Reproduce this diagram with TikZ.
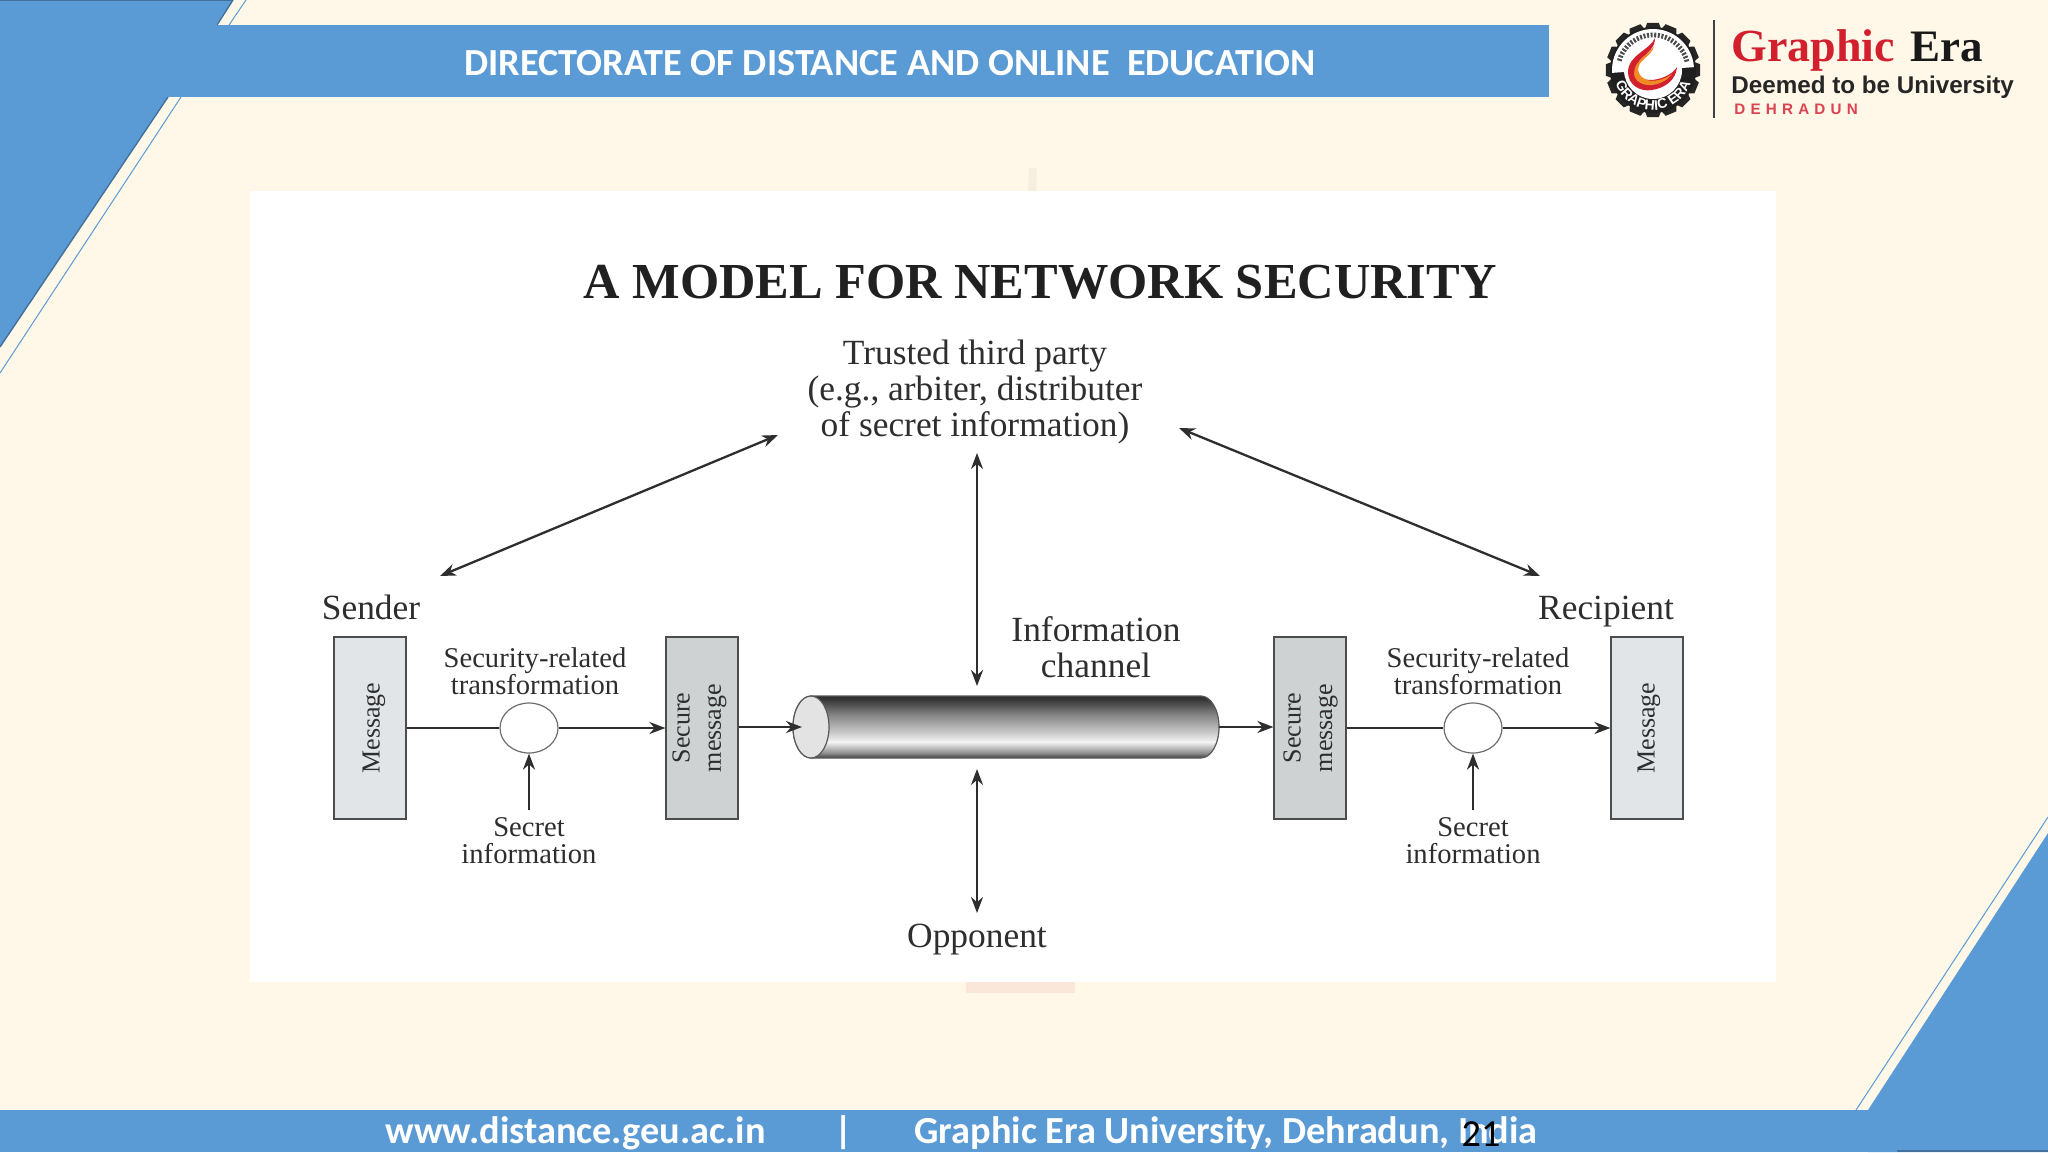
\documentclass[tikz,border=0pt]{standalone}
\usepackage{fontspec}
\setmainfont{Liberation Serif}
\newfontfamily\hdfont{Carlito}
\newfontfamily\logosans{Liberation Sans}
\usetikzlibrary{arrows.meta,shapes.geometric,decorations.text,calc}
\definecolor{bgcream}{HTML}{FFF8E8}
\definecolor{slideblue}{HTML}{5B9BD5}
\definecolor{edgeblue}{HTML}{41719C}
\definecolor{ink}{HTML}{2E2E2E}
\definecolor{boxlight}{HTML}{E2E5E7}
\definecolor{boxdark}{HTML}{CFD2D3}
\definecolor{logored}{HTML}{D2202F}
\definecolor{logoorange}{HTML}{F08A24}
\definecolor{faintmark}{HTML}{F6EEE0}
\definecolor{faintpink}{HTML}{FBE6DA}
\pgfdeclareverticalshading{pipeshade}{100bp}{%
 color(0bp)=(black!75); color(25bp)=(black!75); color(29bp)=(black!45);
 color(38bp)=(black!4); color(46bp)=(black!22); color(60bp)=(black!48);
 color(72bp)=(black!78); color(75bp)=(black!82); color(100bp)=(black!82)}
\tikzset{
 x=0.5pt,y=-0.5pt,
 label text/.style={text=ink,inner sep=0pt,align=center,font=\fontsize{17.7}{18.2}\selectfont},
 small text/.style={text=ink,inner sep=0pt,align=center,font=\fontsize{14.3}{13.6}\selectfont},
 msgbox/.style={draw=ink!85,line width=0.6pt,inner sep=0pt,minimum width=36pt,minimum height=91pt,text=ink,font=\fontsize{13}{15.7}\selectfont},
 xform/.style={ellipse,draw=ink!70,line width=0.6pt,fill=white,inner sep=0pt,minimum width=29pt,minimum height=25pt},
 flow/.style={draw=ink,line width=1.15pt,-{Stealth[length=8pt,width=6pt]}},
 link/.style={draw=ink,line width=1.15pt,{Stealth[length=8pt,width=6pt]}-{Stealth[length=8pt,width=6pt]}},
 plainline/.style={draw=ink,line width=1.15pt},
 banner/.style={text=white,inner sep=0pt,font=\hdfont\bfseries\fontsize{19.15}{21}\selectfont},
}
\begin{document}
\begin{tikzpicture}
\useasboundingbox (0,0) rectangle (2048,1152);
% slide background
\fill[bgcream] (0,0) rectangle (2048,1152);
\fill[slideblue] (100,25) rectangle (1549,97);
\fill[slideblue] (0,1110) rectangle (2048,1152);
\fill[slideblue] (0,0) -- (233,0) -- (0,347) -- cycle;
\draw[edgeblue,line width=0.6pt] (0,0) -- (233,0);
\draw[edgeblue,line width=0.7pt] (217,25) -- (233,0);
\draw[edgeblue,line width=0.7pt] (168,97) -- (0,347);
\draw[slideblue,line width=0.5pt] (246,0) -- (229,25);
\draw[slideblue,line width=0.5pt] (181,97) -- (0,373);
\fill[slideblue] (2048,833) -- (1868,1110) -- (1868,1152) -- (2048,1152) -- cycle;
\draw[slideblue,line width=0.5pt] (2048,817) -- (1856,1110);
\draw[edgeblue,line width=0.6pt] (1897,1151) -- (2048,1151);
\node[banner] (head) at (890,63) {DIRECTORATE OF DISTANCE AND ONLINE\ \ EDUCATION};
\node[banner,anchor=west] (foot1) at (385,1133) {www.distance.geu.ac.in};
\node[banner] (footbar) at (844,1133) {|};
\node[banner,anchor=west] (foot2) at (914,1133) {Graphic Era University, Dehradun, India};
\node[inner sep=0pt,text=black,font=\hdfont\fontsize{19.15}{21}\selectfont] (pageno) at (1481,1134) {21};
% panel
\fill[faintmark] (1029,168) -- (1037,168) -- (1036,191) -- (1028,191) -- cycle;
\fill[faintpink] (966,982) rectangle (1075,993);
\fill[white] (250,191) rectangle (1776,982);
% logo
\begin{scope}
 \foreach \a in {0,22.5,...,359}{
  \fill[black!85] ($(1653,70)+(\a-11:42)$) -- ($(1653,70)+(\a-7:47.5)$) -- ($(1653,70)+(\a+7:47.5)$) -- ($(1653,70)+(\a+11:42)$) -- cycle;
 }
 \fill[black!88] (1653,70) circle[radius=43];
 \fill[white] (1653,70) ++(-4:41) arc[start angle=-4,end angle=-184,radius=41] -- cycle;
 \draw[black!70,line width=2.4pt,dash pattern=on 1pt off 0.8pt] (1653,70) ++(-14:35) arc[start angle=-14,end angle=-166,radius=35];
 \fill[white] (1653,70) circle[radius=29];
 \fill[logored] (1655,38) .. controls (1650,50) and (1628,55) .. (1628,72) .. controls (1628,85) and (1640,92) .. (1652,90) .. controls (1665,88) and (1676,80) .. (1677,67) .. controls (1672,75) and (1660,80) .. (1650,80) .. controls (1638,80) and (1632,70) .. (1640,60) .. controls (1648,52) and (1655,48) .. (1655,38) -- cycle;
 \fill[logoorange] (1654,46) .. controls (1650,54) and (1634,60) .. (1634,73) .. controls (1634,82) and (1644,86) .. (1652,85) .. controls (1660,84) and (1668,80) .. (1672,74) .. controls (1664,80) and (1654,82) .. (1647,80) .. controls (1636,76) and (1636,66) .. (1643,60) .. controls (1648,55) and (1653,52) .. (1654,46) -- cycle;
 \path[postaction={decorate,decoration={text along path,text align=center,text={|\logosans\bfseries\fontsize{7}{8}\selectfont\color{white}|GRAPHIC ERA}}}]
   (1653,70) ++(165:40) arc[start angle=165,end angle=15,radius=40];
\end{scope}
\draw[black!75,line width=0.9pt] (1714,20) -- (1714,118);
\node[anchor=base west,inner sep=0pt,text=logored,font=\bfseries\fontsize{23}{24}\selectfont] (logoa) at (1731,61) {Graphic};
\node[anchor=base west,inner sep=0pt,text=black!90,font=\bfseries\fontsize{22.5}{24}\selectfont] (logob) at (1910,61) {Era};
\node[anchor=base west,inner sep=0pt,text=black!85,font=\logosans\bfseries\fontsize{12.1}{13}\selectfont] (logoc) at (1731,93) {Deemed to be University};
\node[anchor=base west,inner sep=0pt,text=logored!85,font=\logosans\bfseries\fontsize{7.6}{8}\selectfont] (logod) at (1734,114.5) {D\hspace{2.6pt}E\hspace{2.6pt}H\hspace{2.6pt}R\hspace{2.6pt}A\hspace{2.6pt}D\hspace{2.6pt}U\hspace{2.6pt}N};
% diagram
\node[inner sep=0pt,text=ink!70!black,font=\bfseries\fontsize{25.2}{26}\selectfont] (title) at (1040,282) {A MODEL FOR NETWORK SECURITY};
\node[label text] (trusted) at (975,392) {Trusted third party\\(e.g., arbiter, distributer\\of secret information)};
\node[label text,anchor=base] (sender) at (371,619) {Sender};
\node[label text,anchor=base] (recipient) at (1606,619) {Recipient};
\node[label text] (channel) at (1096,647) {Information\\channel};
\node[label text] (opponent) at (977,940) {Opponent};
\node[msgbox,fill=boxlight] (msgL) at (370,728) {\hspace*{4pt}\raisebox{-1.5pt}{\rotatebox{90}{Message}}};
\node[msgbox,fill=boxdark] (secL) at (702,728) {\rotatebox{90}{\begin{tabular}{@{}c@{}}Secure\\message\end{tabular}}\hspace*{3pt}};
\node[msgbox,fill=boxdark] (secR) at (1310,728) {\rotatebox{90}{\begin{tabular}{@{}c@{}}Secure\\message\end{tabular}}};
\node[msgbox,fill=boxlight] (msgR) at (1647,728) {\hspace*{2pt}\raisebox{-1.5pt}{\rotatebox{90}{Message}}};
\node[xform] (opL) at (529,728) {};
\node[xform] (opR) at (1473,728) {};
\node[small text] (srtL) at (535,671) {Security-related\\transformation};
\node[small text] (srtR) at (1478,671) {Security-related\\transformation};
\node[small text] (keyL) at (529,841) {Secret\\information};
\node[small text] (keyR) at (1473,841) {Secret\\information};
% channel pipe
\shade[shading=pipeshade,draw=black!65,line width=0.6pt] (811,696) -- (1201,696) arc[start angle=-90,end angle=90,x radius=18,y radius=31] -- (811,758) arc[start angle=90,end angle=270,x radius=18,y radius=31] -- cycle;
\node[ellipse,draw=black!65,fill=black!11,line width=0.6pt,minimum width=18pt,minimum height=31pt,inner sep=0pt] (pipein) at (811,727) {};
\coordinate (pipeout) at (1219,727);
\coordinate (pipetip) at (802,727);
% connectors
\coordinate (tpL) at (778,435);
\coordinate (tpR) at (1179,428);
\coordinate (tpC) at (977,453);
\coordinate (sendEnd) at (440,576);
\coordinate (recvEnd) at (1540,576);
\coordinate (chanTop) at (977,686);
\coordinate (chanBot) at (977,769);
\coordinate (oppEnd) at (977,913);
\coordinate (keyLtop) at (529,810);
\coordinate (keyRtop) at (1473,810);
\draw[link] (tpL) -- (sendEnd);
\draw[link] (tpR) -- (recvEnd);
\draw[link] (tpC) -- (chanTop);
\draw[link] (chanBot) -- (oppEnd);
\draw[plainline] (msgL.east |- opL) -- (opL);
\draw[flow] (opL) -- (secL.west |- opL);
\draw[flow] (secL.east |- pipetip) -- (pipetip);
\draw[flow] (pipeout) -- (secR.west |- pipeout);
\draw[plainline] (secR.east |- opR) -- (opR);
\draw[flow] (opR) -- (msgR.west |- opR);
\draw[flow] (keyLtop) -- (opL);
\draw[flow] (keyRtop) -- (opR);
\end{tikzpicture}
\end{document}
